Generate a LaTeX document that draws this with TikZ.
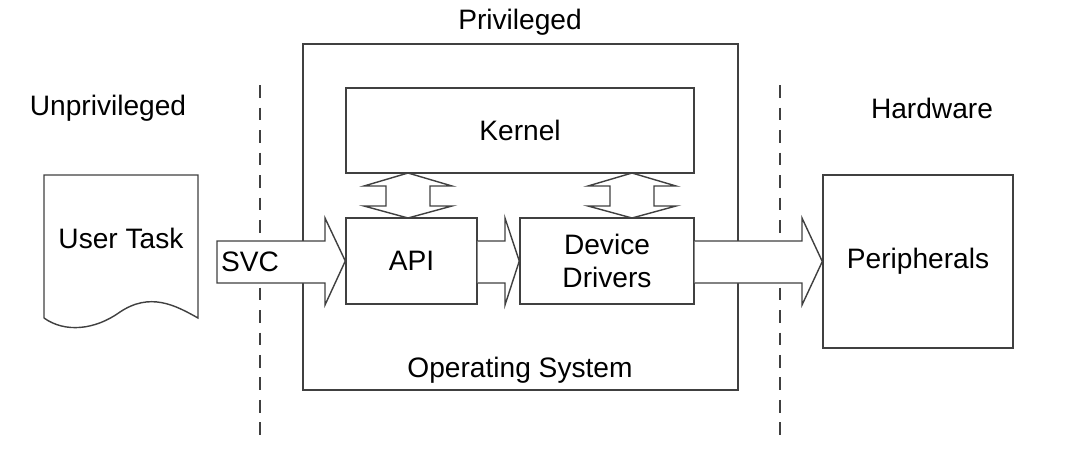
\documentclass[tikz,border=0pt]{standalone}
\usepackage{fontspec}
\setmainfont{Liberation Sans}
\usetikzlibrary{positioning,calc}
\begin{document}
\begin{tikzpicture}[x=0.025cm,y=-0.025cm,
  every node/.style={font=\fontsize{20}{24}\selectfont},
  box/.style={draw=black!75,line width=1pt,fill=white,inner sep=0pt},
  blk/.style={draw=black!75,line width=1pt,fill=white,line join=miter},
  sep/.style={draw=black!75,line width=1pt,dash pattern=on 9pt off 7pt}]
\useasboundingbox (0,0) rectangle (1078,462);

\draw [sep] (260,85) -- (260,438);
\draw [sep] (780,85) -- (780,438);

\node[box,minimum width=435*0.025cm,minimum height=346*0.025cm] (os) at (520.5,217) {};
\node (ossys) at (520,370) {Operating System};
\node (priv) at (520,22) {Privileged};
\node (unpriv) at (108,108) {Unprivileged};
\node (hw) at (932,108) {Hardware};

\node[box,minimum width=348*0.025cm,minimum height=85*0.025cm] (kernel) at (520,130.5) {Kernel};
\node[box,minimum width=131*0.025cm,minimum height=86*0.025cm] (api) at (411.5,261) {API};
\node[box,minimum width=174*0.025cm,minimum height=86*0.025cm,align=center] (dd) at (607,261) {Device\\Drivers};
\node[box,minimum width=190*0.025cm,minimum height=173*0.025cm] (per) at (918,261.5) {Peripherals};

% user task document
\draw [blk] (44,318) -- (44,175) -- (198,175) -- (198,318)
  .. controls (175,305) and (150,292) .. (120,312)
  .. controls (95,330) and (65,333) .. (44,318);
\node (task) at (121,238) {User Task};

% block arrows
\coordinate (svc0) at (217,262);
\draw [blk] ($(svc0)+(0,-21)$) -- (325,241) -- (325,218) -- (api.west) -- (325,305) -- (325,283) -- ($(svc0)+(0,21)$) -- cycle;
\node at (250,262) {SVC};
\draw [blk] (api.east |- 0,241) -- (505,241) -- (505,218) -- (dd.west) -- (505,305) -- (505,283) -- (api.east |- 0,283);
\draw [blk] (dd.east |- 0,241) -- (802,241) -- (802,218) -- (per.west) -- (802,305) -- (802,283) -- (dd.east |- 0,283);

% kernel <-> api / drivers
\foreach \cx in {408,632}{
  \draw [blk] (\cx,173) -- (\cx+44,186) -- (\cx+22,186) -- (\cx+22,206) -- (\cx+44,206) -- (\cx,218)
    -- (\cx-44,206) -- (\cx-22,206) -- (\cx-22,186) -- (\cx-44,186) -- cycle;
}
\end{tikzpicture}
\end{document}
